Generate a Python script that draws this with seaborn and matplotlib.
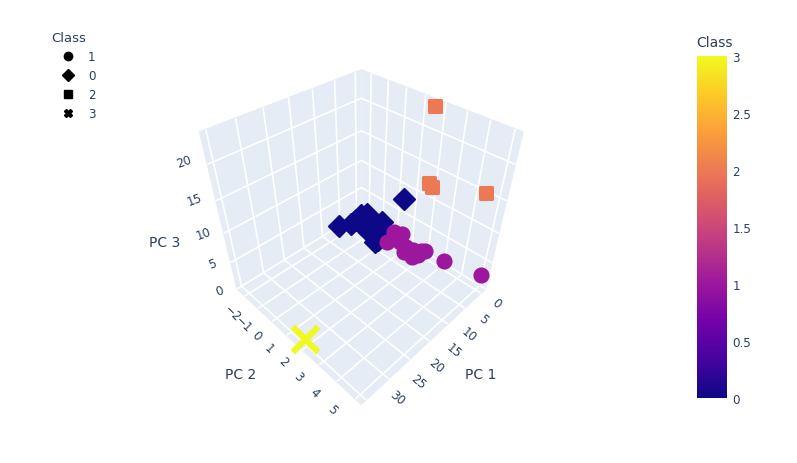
import numpy as np
import pandas as pd
import matplotlib
matplotlib.use('Agg')
import matplotlib.pyplot as plt
import seaborn as sns
from matplotlib.lines import Line2D
from matplotlib.cm import ScalarMappable
from matplotlib.colors import Normalize
from mpl_toolkits.mplot3d import proj3d

# Data
class0_pc1 = [7.8, 6.5, 5.3, 5.65, 7.5, 6.2, 4.8, 5.55, 7.4, 8.45, 7.7, 7.8, 9.0, 11.2, 4.8]
class0_pc2 = [-0.68, -0.68, -0.54, -0.15, -0.13, 0.18, 0.28, 0.64, 0.65, 0.71, 0.11, -0.36, -0.7, -1.0, 1.5]
class0_pc3 = [5.6, 6.1, 6.0, 5.6, 5.1, 5.2, 5.7, 4.8, 4.3, 4.5, 4.8, 5.5, 5.4, 5.4, 11.7]

class1_pc1 = [5.2, 3.4, 3.9, 3.7, 3.3, 2.56, 2.1, 4.5, 3.3, 1.36, -0.2, 3.0, 4.6]
class1_pc2 = [0.72, 0.77, 1.28, 1.63, 1.97, 2.3, 2.4, 2.14, 2.27, 3.36, 5.1, 1.2, 1.7]
class1_pc3 = [3.0, 4.2, 3.4, 3.1, 3.0, 3.0, 3.0, 2.5, 2.6, 2.8, 3.0, 4.4, 2.6]

class2_pc1 = [-0.5, -1.0, -0.9, -1.2]
class2_pc2 = [1.65, 1.7, 1.9, 4.45]
class2_pc3 = [23.5, 12.4, 12.1, 14.9]

class3_pc1 = [30]
class3_pc2 = [1.9]
class3_pc3 = [1.1]

x_ticks = [0, 5, 10, 15, 20, 25, 30]
y_ticks = [-2, -1, 0, 1, 2, 3, 4, 5]
z_ticks = [0, 5, 10, 15, 20]
cbar_ticks = [0, 0.5, 1, 1.5, 2, 2.5, 3]
cbar_labels = ['0', '0.5', '1', '1.5', '2', '2.5', '3']
legend_order = ['1', '0', '2', '3']

plasma_colors = ['#0d0887', '#46039f', '#7201a8', '#9c179e', '#bd3786',
                 '#d8576b', '#ed7953', '#fb9f3a', '#fdca26', '#f0f921']
text_color = '#2a3f5f'
W, H = 797, 464

sns.set_theme(style='white', rc={'text.color': text_color, 'axes.labelcolor': text_color,
                                 'xtick.color': text_color, 'ytick.color': text_color})
plt.rcParams['font.family'] = ['DejaVu Sans']
cmap = sns.blend_palette(plasma_colors, as_cmap=True)
norm = Normalize(0, 3)

fig = plt.figure(figsize=(W / 100, H / 100), dpi=100)
ax = fig.add_axes([(355 - 232) / W, 4 / H, 464 / W, 1.0], projection='3d', computed_zorder=False)
ax.set_proj_type('persp', focal_length=0.19)
ax.view_init(elev=39, azim=45)
ax.set_box_aspect((1, 1, 1), zoom=0.72)
ax.patch.set_alpha(0)

# One scatter for each class
styles = {0: dict(marker='D', s=115, linewidths=1.5), 1: dict(marker='o', s=135, linewidths=0),
          2: dict(marker='s', s=85, linewidths=2.2), 3: dict(marker='x', s=330, linewidths=4.5)}
points = {0: (class0_pc1, class0_pc2, class0_pc3), 1: (class1_pc1, class1_pc2, class1_pc3),
          2: (class2_pc1, class2_pc2, class2_pc3), 3: (class3_pc1, class3_pc2, class3_pc3)}
for k in points:
    xs, ys, zs = points[k]
    col = cmap(norm(k))
    if k == 3:
        ax.scatter(xs, ys, zs, color=col, depthshade=False, zorder=5 + k, **styles[k])
    else:
        ax.scatter(xs, ys, zs, c=[col], edgecolors=[col], joinstyle='round', depthshade=False,
                   zorder=5 + k, **styles[k])

xlim, ylim, zlim = (-1.5, 31), (-2.6, 5.3), (0, 24)
ax.set_xlim(*xlim)
ax.set_ylim(*ylim)
ax.set_zlim(*zlim)
ax.set_xticks(x_ticks)
ax.set_yticks(y_ticks)
ax.set_zticks(z_ticks)
ax.set_xticklabels([])
ax.set_yticklabels([])
ax.set_zticklabels([])
for axis in (ax.xaxis, ax.yaxis, ax.zaxis):
    axis.set_pane_color('#E5ECF6')
    axis.pane.set_edgecolor('#E5ECF6')
    axis.line.set_color((0, 0, 0, 0))
    axis._axinfo['grid'].update(color='white', linewidth=1.2)
    axis._axinfo['tick'].update(inward_factor=0, outward_factor=0)
ax.grid(True)

# Tick labels sit further off the box than matplotlib puts them
def tick_text(x, y, z, s, rot):
    px, py, _ = proj3d.proj_transform(x, y, z, ax.get_proj())
    ax.text2D(px, py, s, transform=ax.transData, rotation=rot, fontsize=8.6,
              color=text_color, ha='center', va='center', rotation_mode='anchor')

xspan, yspan = xlim[1] - xlim[0], ylim[1] - ylim[0]
for t in x_ticks:
    f = (t - xlim[0]) / xspan
    tick_text(t, ylim[1] + yspan * (0.10 + 0.08 * f), 6 * f ** 2, str(t), -40)
for t in y_ticks:
    f = (t - ylim[0]) / yspan
    tick_text(xlim[1] + xspan * (0.09 + 0.05 * f), t, -1.8 + 4.0 * f, str(t).replace('-', '\u2212'), -45)
for t in z_ticks:
    tick_text(xlim[1] + xspan * 0.10, ylim[0], t + 1.5, str(t), 20)

fig.text(481 / W, 1 - 375 / H, 'PC 1', ha='center', va='center', fontsize=10)
fig.text(241 / W, 1 - 375 / H, 'PC 2', ha='center', va='center', fontsize=10)
fig.text(165 / W, 1 - 243 / H, 'PC 3', ha='center', va='center', fontsize=10)

# Legend
handles = [Line2D([], [], ls='', color='black', marker=m, markersize=6)
           for m in ['o', 'D', 's', 'X']]
leg = fig.legend(handles, legend_order, title='Class', loc='upper left', frameon=False,
                 bbox_to_anchor=(51 / W, 1 - 32 / H), fontsize=8.6, title_fontsize=9.5,
                 labelspacing=0.5, handlelength=2.8, handletextpad=0.3, borderpad=0, borderaxespad=0)
leg._legend_box.align = 'left'

# Colour bar
cax = fig.add_axes([697 / W, 1 - 399 / H, 30 / W, 342 / H])
cbar = fig.colorbar(ScalarMappable(norm=norm, cmap=cmap), cax=cax, ticks=cbar_ticks)
cbar.ax.set_yticklabels(cbar_labels, fontsize=8.6, color=text_color)
cbar.ax.tick_params(length=0, pad=4)
cbar.outline.set_visible(False)
cax.set_title('Class', loc='left', fontsize=10, color=text_color, pad=7, x=-0.03)

fig.savefig('out.png', dpi=100)
